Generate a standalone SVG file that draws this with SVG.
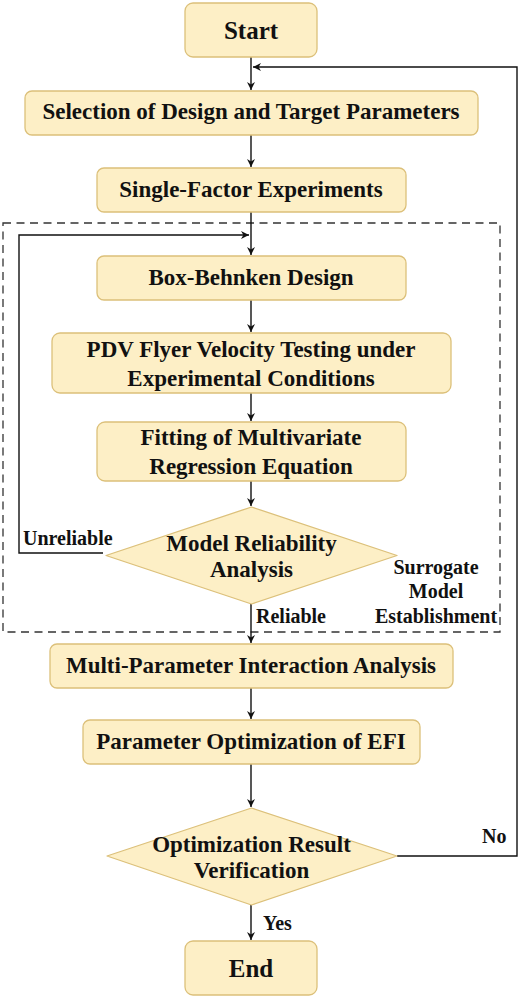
<svg xmlns="http://www.w3.org/2000/svg" width="520" height="998" viewBox="0 0 520 998">
<defs>
<marker id="ah" viewBox="0 0 10 10" refX="10" refY="5" markerWidth="8" markerHeight="8" markerUnits="userSpaceOnUse" orient="auto">
<path d="M0,0 L10,5 L0,10 L3,5 Z" fill="#111"/>
</marker>
</defs>
<rect x="0" y="0" width="520" height="998" fill="#fff"/>
<rect x="3" y="223" width="497" height="409" fill="none" stroke="#333" stroke-width="1.3" stroke-dasharray="8 5.5"/>
<g id="connectors" fill="none" stroke="#111" stroke-width="1.4">
<line x1="251" y1="57" x2="251" y2="90" marker-end="url(#ah)"/>
<polyline points="397,856 517,856 517,67 253,67" marker-end="url(#ah)"/>
<line x1="251" y1="135" x2="251" y2="167" marker-end="url(#ah)"/>
<line x1="251" y1="212" x2="251" y2="255" marker-end="url(#ah)"/>
<polyline points="103,553 19,553 19,235 249,235" marker-end="url(#ah)"/>
<line x1="251" y1="300" x2="251" y2="332" marker-end="url(#ah)"/>
<line x1="251" y1="393" x2="251" y2="421" marker-end="url(#ah)"/>
<line x1="251" y1="481" x2="251" y2="506" marker-end="url(#ah)"/>
<line x1="251" y1="604" x2="251" y2="643" marker-end="url(#ah)"/>
<line x1="251" y1="688" x2="251" y2="719" marker-end="url(#ah)"/>
<line x1="251" y1="764" x2="251" y2="807" marker-end="url(#ah)"/>
<line x1="251" y1="905" x2="251" y2="940" marker-end="url(#ah)"/>
</g>
<g id="edge-labels" fill="#111" stroke="none">
<text font-family="Liberation Serif" font-weight="bold" font-size="20" x="23" y="545">Unreliable</text>
<text font-family="Liberation Serif" font-weight="bold" font-size="20" x="256" y="623">Reliable</text>
<text font-family="Liberation Serif" font-weight="bold" font-size="20" x="482" y="843">No</text>
<text font-family="Liberation Serif" font-weight="bold" font-size="20" x="263" y="930">Yes</text>
</g>
<g fill="#fdefc6" stroke="#dcc07a" stroke-width="1.3">
<g id="start"><rect x="185" y="3" width="132" height="54" rx="8"/><text font-family="Liberation Serif" font-weight="bold" font-size="25" fill="#111" stroke="none" text-anchor="middle" x="251" y="39">Start</text></g>
<g id="selection"><rect x="25" y="91" width="453" height="44" rx="7"/><text font-family="Liberation Serif" font-weight="bold" font-size="23" fill="#111" stroke="none" text-anchor="middle" x="251" y="119">Selection of Design and Target Parameters</text></g>
<g id="single"><rect x="97" y="168" width="309" height="44" rx="7"/><text font-family="Liberation Serif" font-weight="bold" font-size="23" fill="#111" stroke="none" text-anchor="middle" x="251" y="197">Single-Factor Experiments</text></g>
<g id="bbd"><rect x="97" y="256" width="309" height="44" rx="7"/><text font-family="Liberation Serif" font-weight="bold" font-size="23" fill="#111" stroke="none" text-anchor="middle" x="251" y="285">Box-Behnken Design</text></g>
<g id="pdv"><rect x="52" y="333" width="399" height="60" rx="8"/><text font-family="Liberation Serif" font-weight="bold" font-size="23" fill="#111" stroke="none" text-anchor="middle" x="251" y="357">PDV Flyer Velocity Testing under</text><text font-family="Liberation Serif" font-weight="bold" font-size="23" fill="#111" stroke="none" text-anchor="middle" x="251" y="386">Experimental Conditions</text></g>
<g id="fitting"><rect x="97" y="422" width="309" height="59" rx="8"/><text font-family="Liberation Serif" font-weight="bold" font-size="23" fill="#111" stroke="none" text-anchor="middle" x="251" y="445">Fitting of Multivariate</text><text font-family="Liberation Serif" font-weight="bold" font-size="23" fill="#111" stroke="none" text-anchor="middle" x="251" y="474">Regression Equation</text></g>
<g id="reliability"><path d="M251.5,507 L397,555.5 L251.5,604 L106,555.5 Z" stroke-linejoin="round"/><text font-family="Liberation Serif" font-weight="bold" font-size="23" fill="#111" stroke="none" text-anchor="middle" x="251.5" y="551">Model Reliability</text><text font-family="Liberation Serif" font-weight="bold" font-size="23" fill="#111" stroke="none" text-anchor="middle" x="251.5" y="577">Analysis</text></g>
<g id="multi"><rect x="50" y="644" width="403" height="44" rx="7"/><text font-family="Liberation Serif" font-weight="bold" font-size="23" fill="#111" stroke="none" text-anchor="middle" x="251" y="673">Multi-Parameter Interaction Analysis</text></g>
<g id="paramopt"><rect x="83" y="720" width="337" height="44" rx="7"/><text font-family="Liberation Serif" font-weight="bold" font-size="23" fill="#111" stroke="none" text-anchor="middle" x="251" y="749">Parameter Optimization of EFI</text></g>
<g id="verification"><path d="M251.5,808 L397,856 L251.5,905 L107,856 Z" stroke-linejoin="round"/><text font-family="Liberation Serif" font-weight="bold" font-size="23" fill="#111" stroke="none" text-anchor="middle" x="251.5" y="852">Optimization Result</text><text font-family="Liberation Serif" font-weight="bold" font-size="23" fill="#111" stroke="none" text-anchor="middle" x="251.5" y="878">Verification</text></g>
<g id="end"><rect x="185" y="941" width="132" height="54" rx="8"/><text font-family="Liberation Serif" font-weight="bold" font-size="25" fill="#111" stroke="none" text-anchor="middle" x="251" y="977">End</text></g>
</g>
<g id="surrogate" fill="#111">
<text font-family="Liberation Serif" font-weight="bold" font-size="20" text-anchor="middle" x="436" y="574">Surrogate</text>
<text font-family="Liberation Serif" font-weight="bold" font-size="20" text-anchor="middle" x="436" y="598">Model</text>
<text font-family="Liberation Serif" font-weight="bold" font-size="20" text-anchor="middle" x="436" y="623">Establishment</text>
</g>
</svg>
